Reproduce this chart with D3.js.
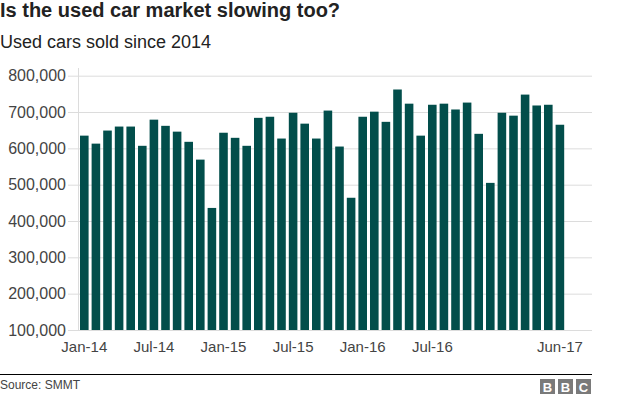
<!DOCTYPE html>
<html>
<head>
<meta charset="utf-8">
<script src="https://cdn.jsdelivr.net/npm/d3@7"></script>
<style>
  body { margin: 0; background: #fff; }
  svg { font-family: "Liberation Sans", Arial, Helvetica, sans-serif; }
  .title { font-size: 20px; font-weight: bold; fill: #222; }
  .subtitle { font-size: 18px; fill: #222; }
  .y-axis text { font-size: 16px; fill: #444; }
  .x-axis text { font-size: 15px; fill: #444; }
  .source { font-size: 12px; fill: #444; }
</style>
</head>
<body>
<div id="chart"></div>
<script>
const months = [
  'Jan-14', 'Feb-14', 'Mar-14', 'Apr-14', 'May-14', 'Jun-14', 'Jul-14', 'Aug-14', 'Sep-14', 'Oct-14', 'Nov-14', 'Dec-14',
  'Jan-15', 'Feb-15', 'Mar-15', 'Apr-15', 'May-15', 'Jun-15', 'Jul-15', 'Aug-15', 'Sep-15', 'Oct-15', 'Nov-15', 'Dec-15',
  'Jan-16', 'Feb-16', 'Mar-16', 'Apr-16', 'May-16', 'Jun-16', 'Jul-16', 'Aug-16', 'Sep-16', 'Oct-16', 'Nov-16', 'Dec-16',
  'Jan-17', 'Feb-17', 'Mar-17', 'Apr-17', 'May-17', 'Jun-17'
];
const carsSold = [
  635000, 613000, 649000, 660000, 660000, 607000, 679000, 662000, 646000, 618000, 569000, 436000,
  643000, 629000, 607000, 684000, 687000, 627000, 698000, 668000, 627000, 704000, 605000, 464000,
  687000, 701000, 673000, 762000, 723000, 635000, 720000, 723000, 707000, 726000, 640000, 505000,
  698000, 690000, 748000, 718000, 720000, 665000
];
const xTickLabels = ['Jan-14', 'Jul-14', 'Jan-15', 'Jul-15', 'Jan-16', 'Jul-16', 'Jun-17'];
const yTicks = [100000, 200000, 300000, 400000, 500000, 600000, 700000, 800000];

const width = 624, height = 398;
const plot = { left: 78, right: 592, top: 68, bottom: 330 };

const svg = d3.select('#chart').append('svg')
  .attr('width', width).attr('height', height);

svg.append('text').attr('class', 'title').attr('x', 0).attr('y', 17)
  .text('Is the used car market slowing too?');
svg.append('text').attr('class', 'subtitle').attr('x', 0).attr('y', 48)
  .text('Used cars sold since 2014');

const y = d3.scaleLinear()
  .domain([100000, 800000])
  .range([plot.bottom, 75.7]);

const x = d3.scaleBand()
  .domain(months)
  .range([78.5, 565.7])
  .paddingInner(0.26)
  .paddingOuter(0.13);

// gridlines + labels
const yAxis = svg.append('g').attr('class', 'y-axis')
  .attr('transform', `translate(${plot.left},0)`)
  .call(d3.axisLeft(y).tickValues(yTicks).tickFormat(d3.format(','))
    .tickSize(-(plot.right - plot.left)).tickPadding(12));
yAxis.select('.domain').remove();
yAxis.selectAll('.tick line')
  .attr('x1', -10)
  .attr('stroke', '#dcdcdc');

svg.append('line')
  .attr('x1', plot.left + 0.5).attr('x2', plot.left + 0.5)
  .attr('y1', plot.top).attr('y2', plot.bottom)
  .attr('stroke', '#dcdcdc');

svg.append('g').attr('class', 'bars')
  .selectAll('rect')
  .data(carsSold)
  .join('rect')
  .attr('x', (d, i) => x(months[i]))
  .attr('width', x.bandwidth())
  .attr('y', d => y(d))
  .attr('height', d => y(100000) - y(d))
  .attr('fill', '#024e4b');

const xAxis = svg.append('g').attr('class', 'x-axis')
  .attr('transform', `translate(0,${plot.bottom})`)
  .call(d3.axisBottom(x).tickValues(xTickLabels).tickSize(0).tickPadding(11));
xAxis.select('.domain').remove();

// footer
svg.append('line')
  .attr('x1', 0).attr('x2', 592)
  .attr('y1', 374.5).attr('y2', 374.5)
  .attr('stroke', '#000');
svg.append('text').attr('class', 'source').attr('x', 0).attr('y', 389)
  .text('Source: SMMT');

const logo = svg.append('g').attr('transform', 'translate(540,379)');
['B', 'B', 'C'].forEach((letter, i) => {
  logo.append('rect').attr('x', i * 18).attr('width', 15).attr('height', 15).attr('fill', '#7a7a7a');
  logo.append('text').attr('x', i * 18 + 7.5).attr('y', 12.5)
    .attr('text-anchor', 'middle').attr('fill', '#fff')
    .attr('font-size', 13).attr('font-weight', 'bold')
    .text(letter);
});
</script>
</body>
</html>
